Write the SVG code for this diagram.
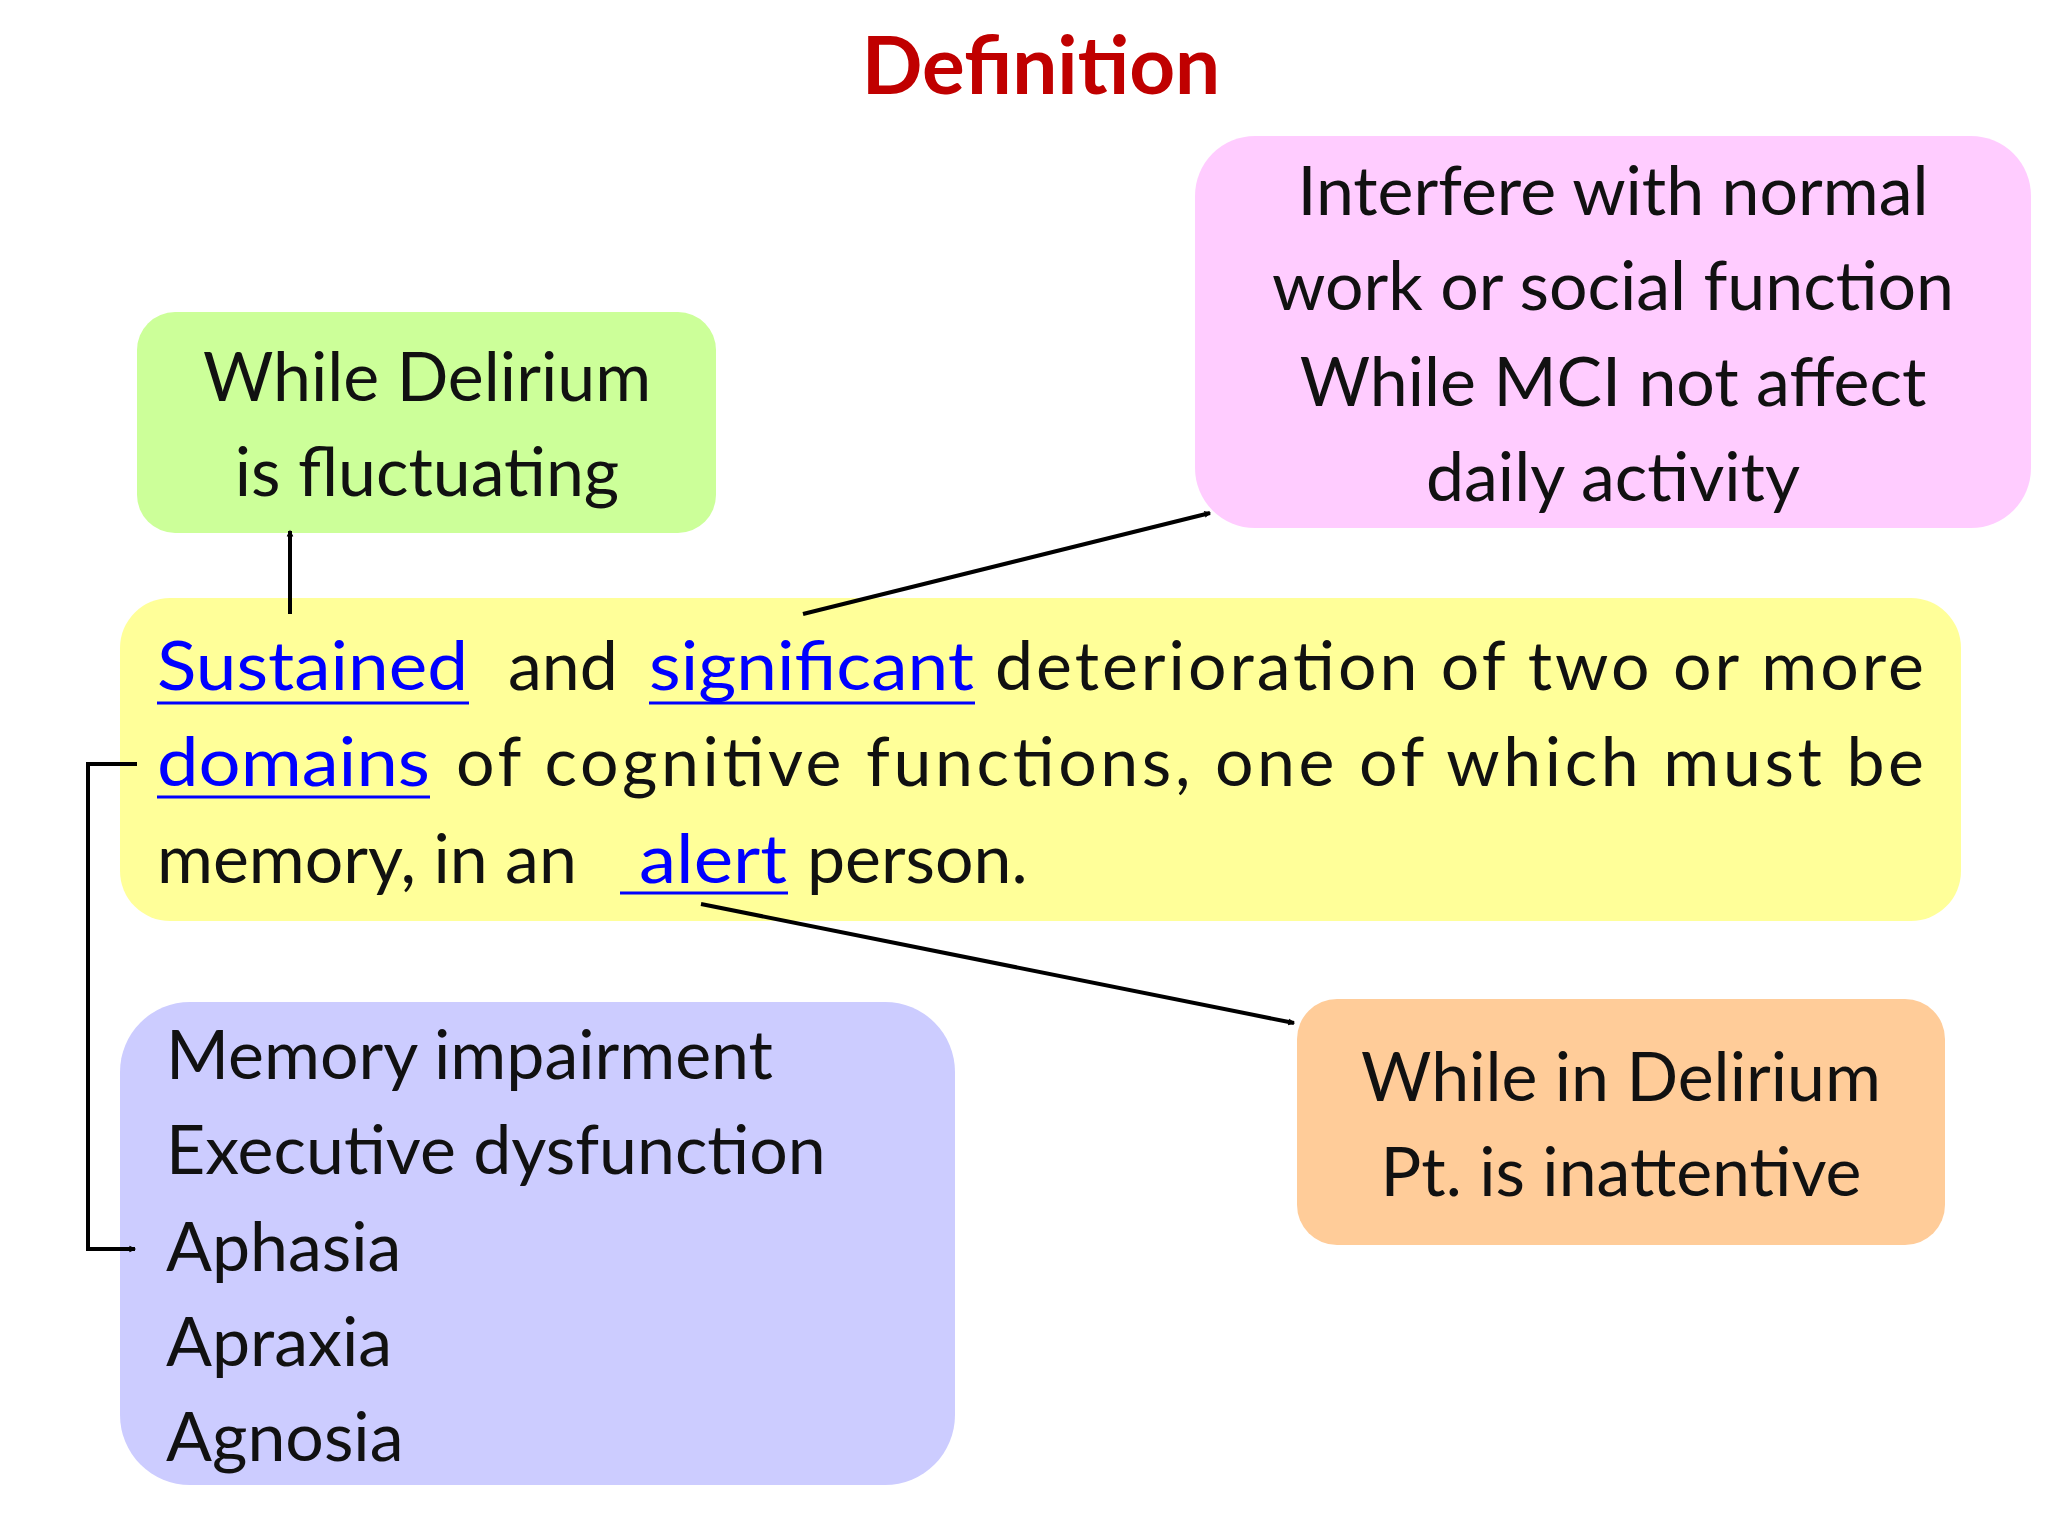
<svg xmlns="http://www.w3.org/2000/svg" width="2048" height="1536" viewBox="0 0 2048 1536">
<defs>
<marker id="ah" viewBox="0 0 20 20" refX="18" refY="10" markerWidth="7" markerHeight="7" markerUnits="userSpaceOnUse" orient="auto" style="overflow:visible">
<path d="M2,2 L18,10 L2,18" fill="none" stroke="#000" stroke-width="3"/>
</marker>
<style>
text{font-family:Lato,"Open Sans","Liberation Sans",sans-serif;font-size:68px;fill:#111}
.c{text-anchor:middle}
.l{fill:#0000FF}
.u{stroke:#0000FF;stroke-width:3}
.k{fill:none;stroke:#000;stroke-width:4;marker-end:url(#ah)}
</style>
</defs>
<rect width="2048" height="1536" fill="#fff"/>
<text x="1041" y="94" class="c" style="font-size:80px;font-weight:bold;fill:#C00000">Definition</text>
<g id="green">
<rect x="137" y="312" width="579" height="221" rx="38" fill="#CCFF99"/>
<text x="427" y="401" class="c">While Delirium</text>
<text x="427" y="496" class="c">is fluctuating</text>
</g>
<g id="pink">
<rect x="1195" y="136" width="836" height="392" rx="60" fill="#FFCCFF"/>
<text x="1613" y="215" class="c">Interfere with normal</text>
<text x="1613" y="310" class="c">work or social function</text>
<text x="1613" y="406" class="c">While MCI not affect</text>
<text x="1613" y="501" class="c">daily activity</text>
</g>
<g id="yellow">
<rect x="120" y="598" width="1841" height="323" rx="50" fill="#FFFF99"/>
<text x="157" y="690" class="l" textLength="311" lengthAdjust="spacingAndGlyphs">Sustained</text>
<text x="508" y="690">and</text>
<text x="649" y="690" class="l" textLength="325" lengthAdjust="spacingAndGlyphs">significant</text>
<text x="995" y="690" textLength="929" lengthAdjust="spacing">deterioration of two or more</text>
<text x="157" y="786" class="l" textLength="273" lengthAdjust="spacingAndGlyphs">domains</text>
<text x="456" y="786" textLength="1468" lengthAdjust="spacing">of cognitive functions, one of which must be</text>
<text x="157" y="883">memory, in an</text>
<text x="639" y="883" class="l" textLength="148" lengthAdjust="spacingAndGlyphs">alert</text>
<text x="807" y="883">person.</text>
<line class="u" x1="157" y1="703" x2="469" y2="703"/>
<line class="u" x1="649" y1="703" x2="975" y2="703"/>
<line class="u" x1="157" y1="797" x2="430" y2="797"/>
<line class="u" x1="620" y1="893" x2="788" y2="893"/>
</g>
<g id="purple">
<rect x="120" y="1002" width="835" height="483" rx="70" fill="#CCCCFF"/>
<text x="166" y="1079">Memory impairment</text>
<text x="166" y="1174">Executive dysfunction</text>
<text x="166" y="1271">Aphasia</text>
<text x="166" y="1366">Apraxia</text>
<text x="166" y="1461">Agnosia</text>
</g>
<g id="orange">
<rect x="1297" y="999" width="648" height="246" rx="40" fill="#FFCC99"/>
<text x="1621" y="1101" class="c">While in Delirium</text>
<text x="1621" y="1196" class="c">Pt. is inattentive</text>
</g>
<g id="connectors">
<line class="k" x1="290" y1="614" x2="290" y2="531"/>
<line class="k" x1="803" y1="614" x2="1210" y2="513"/>
<line class="k" x1="701" y1="904" x2="1294" y2="1023"/>
<polyline class="k" points="137,764 88,764 88,1249 135,1249"/>
</g>
</svg>
